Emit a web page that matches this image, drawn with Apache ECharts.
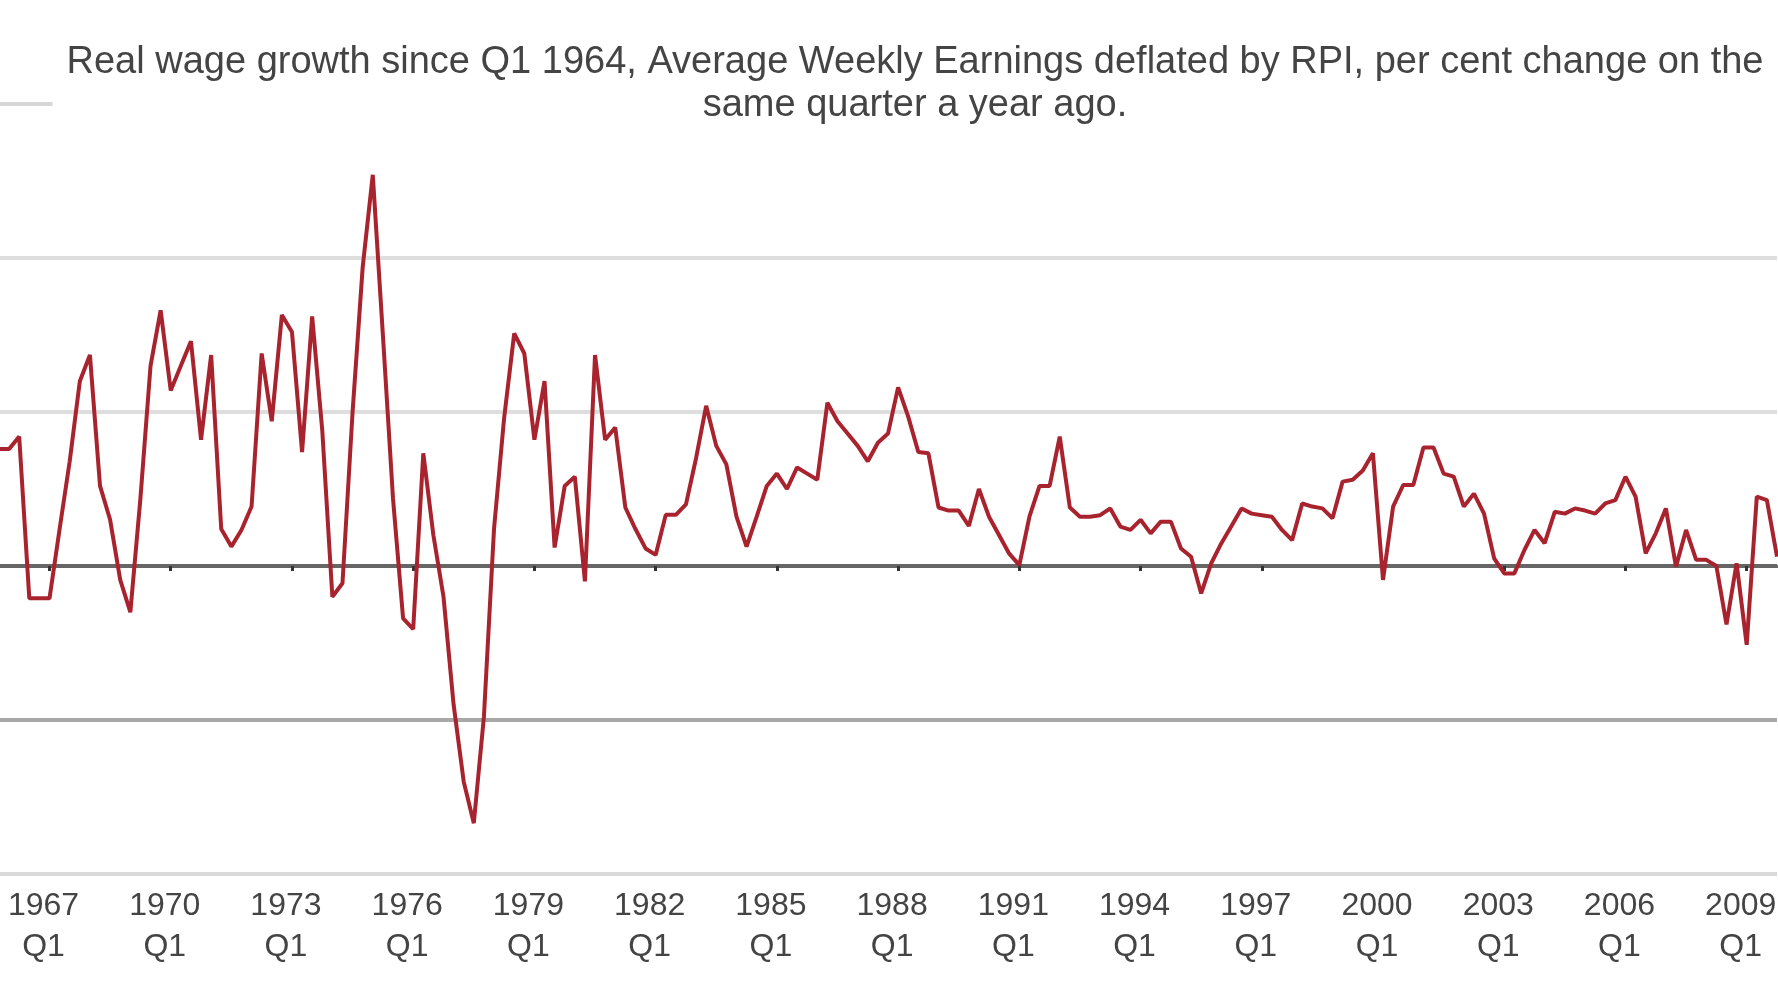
<!DOCTYPE html>
<html>
<head>
<meta charset="utf-8">
<script src="https://cdn.jsdelivr.net/npm/echarts@6/dist/echarts.min.js"></script>
<style>
html, body { margin: 0; padding: 0; background: #ffffff; }
#chart { width: 1778px; height: 1000px; }
</style>
</head>
<body>
<div id="chart"></div>
<script>
// ---- data ----
const chartTitle = 'Real wage growth since Q1 1964, Average Weekly Earnings deflated by RPI, per cent change on the\nsame quarter a year ago.';

// first visible quarter of the series
const firstYear = 1965;
const firstQuarter = 4;

// per cent change on the same quarter a year ago, 1965 Q4 .. 2009 Q4
const realWageGrowth = [
  3.8,
  3.8, 4.2, -1.05, -1.05,
  -1.05, 1.2, 3.4, 6.0,
  6.85, 2.6, 1.5, -0.45,
  -1.5, 2.2, 6.5, 8.3,
  5.7, 6.5, 7.3, 4.1,
  6.85, 1.2, 0.63, 1.17,
  1.93, 6.9, 4.7, 8.15,
  7.6, 3.7, 8.1, 4.4,
  -1.0, -0.56, 5.0, 9.7,
  12.7, 7.5, 2.2, -1.7,
  -2.05, 3.66, 1.0, -1.0,
  -4.5, -7.0, -8.35, -4.9,
  1.2, 4.8, 7.55, 6.9,
  4.1, 6.0, 0.6, 2.6,
  2.9, -0.5, 6.85, 4.1,
  4.5, 1.9, 1.2, 0.57,
  0.36, 1.66, 1.66, 2.0,
  3.5, 5.2, 3.9, 3.3,
  1.6, 0.63, 1.6, 2.6,
  3.0, 2.5, 3.2, 3.0,
  2.8, 5.3, 4.7, 4.3,
  3.9, 3.4, 4.0, 4.3,
  5.8, 4.85, 3.7, 3.66,
  1.9, 1.8, 1.8, 1.3,
  2.5, 1.6, 1.0, 0.4,
  0.03, 1.6, 2.6, 2.6,
  4.2, 1.9, 1.6, 1.6,
  1.65, 1.87, 1.28, 1.17,
  1.5, 1.06, 1.44, 1.44,
  0.57, 0.3, -0.89, 0.09,
  0.74, 1.3, 1.87, 1.7,
  1.65, 1.6, 1.17, 0.84,
  2.03, 1.93, 1.87, 1.55,
  2.74, 2.8, 3.1, 3.66,
  -0.45, 1.93, 2.63, 2.63,
  3.85, 3.85, 3.0, 2.9,
  1.93, 2.35, 1.7, 0.25,
  -0.24, -0.24, 0.52, 1.17,
  0.74, 1.76, 1.7, 1.87,
  1.8, 1.7, 2.03, 2.14,
  2.9, 2.25, 0.41, 1.06,
  1.87, -0.02, 1.17, 0.2,
  0.2, 0.0, -1.9, 0.09,
  -2.56, 2.25, 2.14, 0.3
];

// x tick labels shown on the axis
const tickLabels = [
  '1967 Q1', '1970 Q1', '1973 Q1', '1976 Q1', '1979 Q1', '1982 Q1', '1985 Q1', '1988 Q1',
  '1991 Q1', '1994 Q1', '1997 Q1', '2000 Q1', '2003 Q1', '2006 Q1', '2009 Q1'
];

// y axis range (labels are outside the visible picture)
const yMin = -10, yMax = 15, yStep = 5;

// ---- quarter categories ----
const quarters = [];
{
  let y = firstYear, q = firstQuarter;
  for (let i = 0; i < realWageGrowth.length; i++) {
    quarters.push(y + ' Q' + q);
    q++;
    if (q > 4) { q = 1; y++; }
  }
}
const showTick = (idx) => tickLabels.indexOf(quarters[idx]) !== -1;

const chart = echarts.init(document.getElementById('chart'), null, { renderer: 'canvas' });

chart.setOption({
  backgroundColor: '#ffffff',
  animation: false,
  title: {
    text: chartTitle,
    left: 901,
    top: 33,
    textAlign: 'center',
    padding: [8, 30, 8, 14],
    backgroundColor: '#ffffff',
    textStyle: {
      fontFamily: 'Liberation Sans, Arial, sans-serif',
      fontSize: 38,
      fontWeight: 'normal',
      color: '#444444',
      lineHeight: 43
    }
  },
  grid: {
    left: -1,
    width: 1778,
    top: 104,
    height: 770,
    containLabel: false,
    outerBoundsMode: 'none'
  },
  xAxis: [
    {
      type: 'category',
      data: quarters,
      boundaryGap: false,
      axisLine: { show: true, onZero: true, lineStyle: { color: '#666666', width: 3 } },
      axisTick: {
        show: true,
        interval: (idx) => showTick(idx),
        length: 5,
        lineStyle: { color: '#333333', width: 3 }
      },
      axisLabel: { show: false },
      splitLine: { show: false }
    },
    {
      type: 'category',
      data: quarters,
      boundaryGap: false,
      position: 'bottom',
      axisLine: { show: false, onZero: false },
      axisTick: { show: false },
      splitLine: { show: false },
      axisLabel: {
        show: true,
        interval: (idx) => showTick(idx),
        formatter: (v) => v.replace(' ', '\n'),
        fontFamily: 'Liberation Sans, Arial, sans-serif',
        fontSize: 32,
        lineHeight: 41,
        color: '#444444',
        margin: 12,
        padding: [0, 12, 0, 0],
        hideOverlap: false
      }
    }
  ],
  yAxis: {
    type: 'value',
    min: yMin,
    max: yMax,
    interval: yStep,
    axisLine: { show: false },
    axisTick: { show: false },
    axisLabel: { show: false },
    splitLine: {
      show: true,
      lineStyle: {
        color: ['#dadada', '#a8a8a8', '#666666', '#dedede', '#dedede', '#d6d6d6'],
        width: 4
      }
    }
  },
  series: [
    {
      name: 'Real wage growth',
      type: 'line',
      xAxisIndex: 0,
      data: realWageGrowth,
      symbol: 'none',
      smooth: false,
      lineStyle: { color: '#a8232d', width: 4 },
      z: 5
    }
  ]
});
</script>
</body>
</html>
